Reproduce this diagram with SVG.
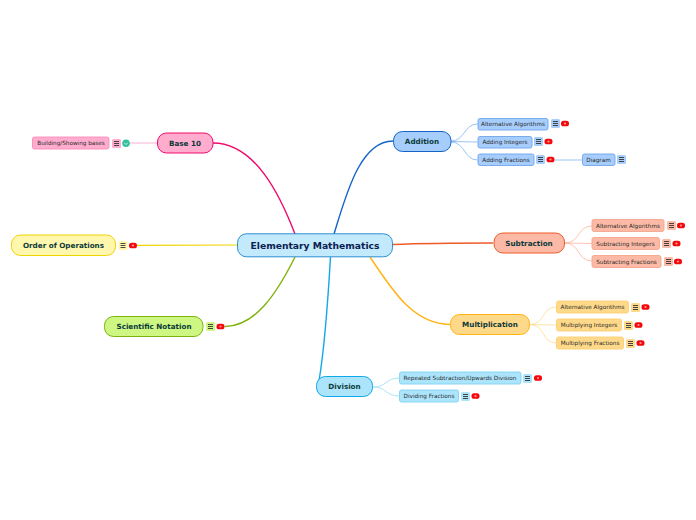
<svg xmlns="http://www.w3.org/2000/svg" width="696" height="520" viewBox="0 0 696 520">
<defs>
<g id="r"><rect x="-4" y="-2.800" width="8" height="5.600" rx="2.600" fill="#f4080c"/><circle r="1.100" fill="#ff9a9a"/></g>
</defs>
<style>
text{font-family:"DejaVu Sans",Verdana,sans-serif;text-anchor:middle;dominant-baseline:central}
.t{font-size:5.7px;fill:#2a2a2a}
.h{font-size:7.2px;font-weight:bold;fill:#0c3a3a}
.c{font-size:9.2px;font-weight:bold;fill:#0b2150}
.ca{fill:#a6cdfb;stroke:#6ea5ec;stroke-width:.9}
.cs{fill:#fbb9a6;stroke:#f7a58c;stroke-width:.9}
.cm{fill:#ffd98a;stroke:#fdcf72;stroke-width:.9}
.cd{fill:#ace5fb;stroke:#80d2f4;stroke-width:.9}
.cb{fill:#ffaccf;stroke:#f98cba;stroke-width:.9}
.ico{stroke:#333;stroke-width:.9;fill:none}
</style>
<rect width="696" height="520" fill="#fff"/>
<g id="connectors" fill="none">
<path d="M334 234C346 195 360 141 393 141" stroke="#1464c8" stroke-width="1.400"/>
<path d="M295 234C280 195 255 143 213 143" stroke="#ef0a6a" stroke-width="1.400"/>
<path d="M237 245L137 245.300" stroke="#f0d400" stroke-width="1.200"/>
<path d="M295 257C276 295 255 326 225 326.500" stroke="#7eb40a" stroke-width="1.400"/>
<path d="M393 244.500C430 243 460 243 493 243" stroke="#ef5a28" stroke-width="1.400"/>
<path d="M370 257C395 295 415 324 450 324.500" stroke="#ffb310" stroke-width="1.400"/>
<path d="M330.500 257C328 300 325 345 319 381" stroke="#10a8ea" stroke-width="1.400"/>
<g stroke="#82b2ee" stroke-width="0.800">
<path d="M451 141C465 141 464 124 477.500 124"/><path d="M451 141.500L477.500 142"/><path d="M451 142C465 142 464 160 477.500 160"/><path d="M555 160L582 160"/>
</g>
<g stroke="#fbb49d" stroke-width="0.800">
<path d="M565 243C580 243 577 226 592 226"/><path d="M565 243L592 243.500"/><path d="M565 243C580 243 577 261 592 261"/>
</g>
<g stroke="#fddc90" stroke-width="0.800">
<path d="M530 324.500C545 324.500 542 307 556 307"/><path d="M530 324.500L556 325"/><path d="M530 324.500C545 324.500 542 343 556 343"/>
</g>
<g stroke="#9adcf6" stroke-width="0.800">
<path d="M373 387C387 387 385 378 399.500 378"/><path d="M373 387C387 387 385 396 399.500 396"/>
</g>
<path d="M130 143L157 143" stroke="#f99cc4" stroke-width="0.800"/>
</g>
<g id="central"><rect x="237.500" y="233.800" width="155" height="23" rx="9" fill="#c3e9fc" stroke="#2c8fd0" stroke-width="1"/><text class="c" x="315" y="245.500">Elementary Mathematics</text></g>

<g id="addition"><rect x="393.500" y="131.500" width="57.500" height="20" rx="9" fill="#a6cdfb" stroke="#1464c8"/><text class="h" x="422" y="141.500">Addition</text></g>
<g id="add1"><rect class="ca" x="478" y="118.500" width="70" height="11.500" rx="2"/><text class="t" x="513" y="124.300">Alternative Algorithms</text><rect x="551" y="119" width="9" height="9" rx="1.500" fill="#a6cdfb"/><path class="ico" d="M553 121.500h5M553 123.500h5M553 125.500h5"/><use href="#r" x="565" y="123.500"/></g>
<g id="add2"><rect class="ca" x="478" y="136.500" width="54" height="11.500" rx="2"/><text class="t" x="505" y="142.300">Adding Integers</text><rect x="534" y="137" width="9" height="9" rx="1.500" fill="#a6cdfb"/><path class="ico" d="M536 139.500h5M536 141.500h5M536 143.500h5"/><use href="#r" x="548.500" y="141.500"/></g>
<g id="add3"><rect class="ca" x="478" y="154" width="56" height="11.500" rx="2"/><text class="t" x="506" y="160">Adding Fractions</text><rect x="536" y="155" width="9" height="9" rx="1.500" fill="#a6cdfb"/><path class="ico" d="M538 157.500h5M538 159.500h5M538 161.500h5"/><use href="#r" x="550.500" y="159.500"/></g>
<g id="add4"><rect class="ca" x="582.500" y="154" width="32.500" height="11.500" rx="2"/><text class="t" x="598.500" y="160">Diagram</text><rect x="617" y="155" width="9" height="9" rx="1.500" fill="#a6cdfb"/><path class="ico" d="M619 157.500h5M619 159.500h5M619 161.500h5"/></g>

<g id="subtraction"><rect x="494" y="233" width="70.500" height="20" rx="9" fill="#fbb9a6" stroke="#ef5a28"/><text class="h" x="529" y="243.300">Subtraction</text></g>
<g id="sub1"><rect class="cs" x="592" y="219.500" width="72" height="12" rx="2"/><text class="t" x="628" y="225.800">Alternative Algorithms</text><rect x="667" y="221" width="9" height="9" rx="1.500" fill="#fbb9a6"/><path class="ico" d="M669 223.500h5M669 225.500h5M669 227.500h5"/><use href="#r" x="681" y="225.500"/></g>
<g id="sub2"><rect class="cs" x="592" y="237.500" width="67.500" height="12" rx="2"/><text class="t" x="625.500" y="243.800">Subtracting Integers</text><rect x="662" y="239" width="9" height="9" rx="1.500" fill="#fbb9a6"/><path class="ico" d="M664 241.500h5M664 243.500h5M664 245.500h5"/><use href="#r" x="676.500" y="243.500"/></g>
<g id="sub3"><rect class="cs" x="592" y="255.500" width="69" height="12" rx="2"/><text class="t" x="626.500" y="261.800">Subtracting Fractions</text><rect x="664" y="257" width="9" height="9" rx="1.500" fill="#fbb9a6"/><path class="ico" d="M666 259.500h5M666 261.500h5M666 263.500h5"/><use href="#r" x="678" y="261.500"/></g>

<g id="multiplication"><rect x="450.500" y="314.500" width="79" height="20" rx="9" fill="#ffd98a" stroke="#ffb310"/><text class="h" x="490" y="324.500">Multiplication</text></g>
<g id="mul1"><rect class="cm" x="556.500" y="301" width="72" height="12" rx="2"/><text class="t" x="592.500" y="307">Alternative Algorithms</text><rect x="631" y="303" width="9" height="9" rx="1.500" fill="#ffd98a"/><path class="ico" d="M633 305.500h5M633 307.500h5M633 309.500h5"/><use href="#r" x="645.500" y="307"/></g>
<g id="mul2"><rect class="cm" x="556.500" y="319" width="65" height="12" rx="2"/><text class="t" x="589" y="325">Multiplying Integers</text><rect x="624" y="321" width="9" height="9" rx="1.500" fill="#ffd98a"/><path class="ico" d="M626 323.500h5M626 325.500h5M626 327.500h5"/><use href="#r" x="638.500" y="325"/></g>
<g id="mul3"><rect class="cm" x="556.500" y="337" width="67" height="12" rx="2"/><text class="t" x="590" y="343">Multiplying Fractions</text><rect x="626" y="339" width="9" height="9" rx="1.500" fill="#ffd98a"/><path class="ico" d="M628 341.500h5M628 343.500h5M628 345.500h5"/><use href="#r" x="640.500" y="343"/></g>

<g id="division"><rect x="316.500" y="376.500" width="56" height="20" rx="9" fill="#ace5fb" stroke="#10a8ea"/><text class="h" x="344.500" y="386.500">Division</text></g>
<g id="div1"><rect class="cd" x="399.500" y="372" width="121.500" height="12" rx="2"/><text class="t" x="460" y="378">Repeated Subtraction/Upwards Division</text><rect x="523" y="374" width="9" height="9" rx="1.500" fill="#ace5fb"/><path class="ico" d="M525 376.500h5M525 378.500h5M525 380.500h5"/><use href="#r" x="538" y="378"/></g>
<g id="div2"><rect class="cd" x="399.500" y="390" width="59" height="12" rx="2"/><text class="t" x="429" y="396">Dividing Fractions</text><rect x="461" y="392" width="9" height="9" rx="1.500" fill="#ace5fb"/><path class="ico" d="M463 394.500h5M463 396.500h5M463 398.500h5"/><use href="#r" x="475.500" y="396"/></g>

<g id="base10"><rect x="157.500" y="133" width="55.500" height="20" rx="9" fill="#ffaccf" stroke="#ef0a6a"/><text class="h" x="185" y="143.300">Base 10</text></g>
<g id="base1"><rect class="cb" x="32.500" y="137" width="76.500" height="12" rx="2"/><text class="t" x="71" y="143">Building/Showing bases</text><rect x="112" y="139" width="9" height="9" rx="1.500" fill="#ffaccf"/><path class="ico" d="M114 141.500h5M114 143.500h5M114 145.500h5"/><circle cx="126" cy="143.300" r="3.800" fill="#35c0a0"/><path d="M124.500 142.800a1.500 1.500 0 0 0 3 0" fill="none" stroke="#d8f5ee" stroke-width=".7"/></g>

<g id="order"><rect x="11.500" y="235" width="104" height="20.500" rx="9" fill="#fff7ae" stroke="#f0d400"/><text class="h" x="63.500" y="245.500">Order of Operations</text><rect x="118.500" y="241" width="9" height="9" rx="1.500" fill="#fff7ae"/><path class="ico" d="M120.500 243.500h5M120.500 245.500h5M120.500 247.500h5"/><use href="#r" x="133" y="245.500"/></g>

<g id="scientific"><rect x="104.500" y="316.500" width="98.500" height="20" rx="9" fill="#cdf782" stroke="#7eb40a"/><text class="h" x="154" y="326.500">Scientific Notation</text><rect x="206" y="322" width="9" height="9" rx="1.500" fill="#cdf782"/><path class="ico" d="M208 324.500h5M208 326.500h5M208 328.500h5"/><use href="#r" x="220.500" y="326.500"/></g>
</svg>
